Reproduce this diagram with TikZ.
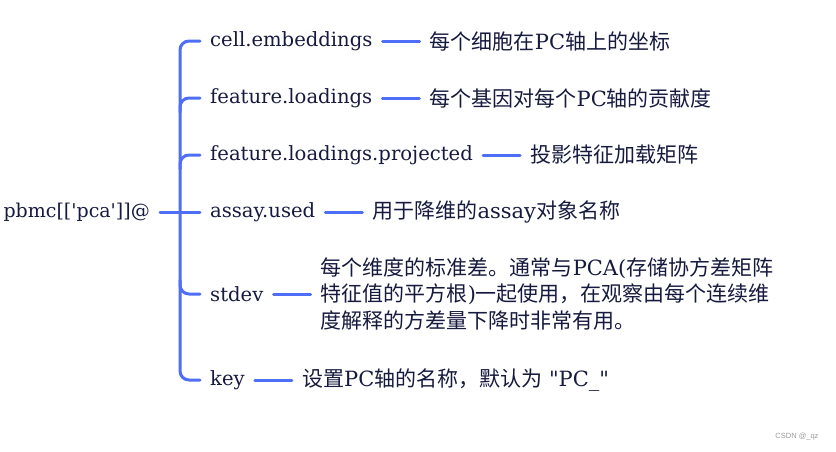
\documentclass[tikz,border=0pt]{standalone}
\usepackage{fontspec}
\newfontfamily\keyfont{DejaVu Serif}
\newfontfamily\cjk{Noto Sans CJK SC}
\usetikzlibrary{positioning}
\definecolor{branchblue}{RGB}{78,110,248}
\definecolor{inkblue}{RGB}{22,26,62}
\newcommand\lat[1]{{\keyfont #1}}
\tikzset{
  link/.style={draw=branchblue,line width=3pt,line cap=round},
  keybox/.style={inner xsep=10pt,inner ysep=2pt,text=inkblue,font=\keyfont\fontsize{19.6}{23}\selectfont},
  descbox/.style={inner xsep=10pt,inner ysep=2pt,text=inkblue,align=left,font=\cjk\fontsize{21}{26.5}\selectfont},
}
\begin{document}
\begin{tikzpicture}[x=1pt,y=-1pt]
\useasboundingbox (0,0) rectangle (836,451);
% root and spine
\node[keybox,anchor=east,font=\keyfont\fontsize{19}{23}\selectfont] (root) at (160,212) {pbmc[[{'}pca{'}]]@};
\coordinate (spine) at (180,212);
% keys
\node[keybox,anchor=west] (k1) at (200,41) {cell.embeddings};
\node[keybox,anchor=west] (k2) at (200,98) {feature.loadings};
\node[keybox,anchor=west] (k3) at (200,155) {feature.loadings.projected};
\node[keybox,anchor=west] (k4) at (200,212) {assay.used};
\node[keybox,anchor=west] (k5) at (200,294) {stdev};
\node[keybox,anchor=west] (k6) at (200,380) {key};
% descriptions
\node[descbox,right=37pt of k1] (d1) {每个细胞在\lat{PC}轴上的坐标};
\node[descbox,right=37pt of k2] (d2) {每个基因对每个\lat{PC}轴的贡献度};
\node[descbox,right=37pt of k3] (d3) {投影特征加载矩阵};
\node[descbox,right=37pt of k4] (d4) {用于降维的\lat{assay}对象名称};
\node[descbox,right=37pt of k5] (d5) {每个维度的标准差。通常与\lat{PCA(}存储协方差矩阵\\特征值的平方根\lat{)}一起使用，在观察由每个连续维\\度解释的方差量下降时非常有用。};
\node[descbox,right=37pt of k6] (d6) {设置\lat{PC}轴的名称，默认为\lat{ "PC\_"}};
% bracket
\draw[link] (root.east) -- (spine) -- (k4.west);
\draw[link,rounded corners=9pt] (k1.west) -| (spine);
\draw[link,rounded corners=9pt] (k6.west) -| (spine);
\draw[link,rounded corners=9pt] (k2.west) -| +(-20,14);
\draw[link,rounded corners=9pt] (k3.west) -| +(-20,14);
\draw[link,rounded corners=9pt] (k5.west) -| +(-20,-14);
\foreach \i in {1,...,6}
  \draw[link] (k\i) -- (d\i);
\node[text=black!40,font=\fontspec{Liberation Sans}\fontsize{7.5}{9}\selectfont,anchor=east] (mark) at (822,437) {CSDN @\_qz};
\end{tikzpicture}
\end{document}
